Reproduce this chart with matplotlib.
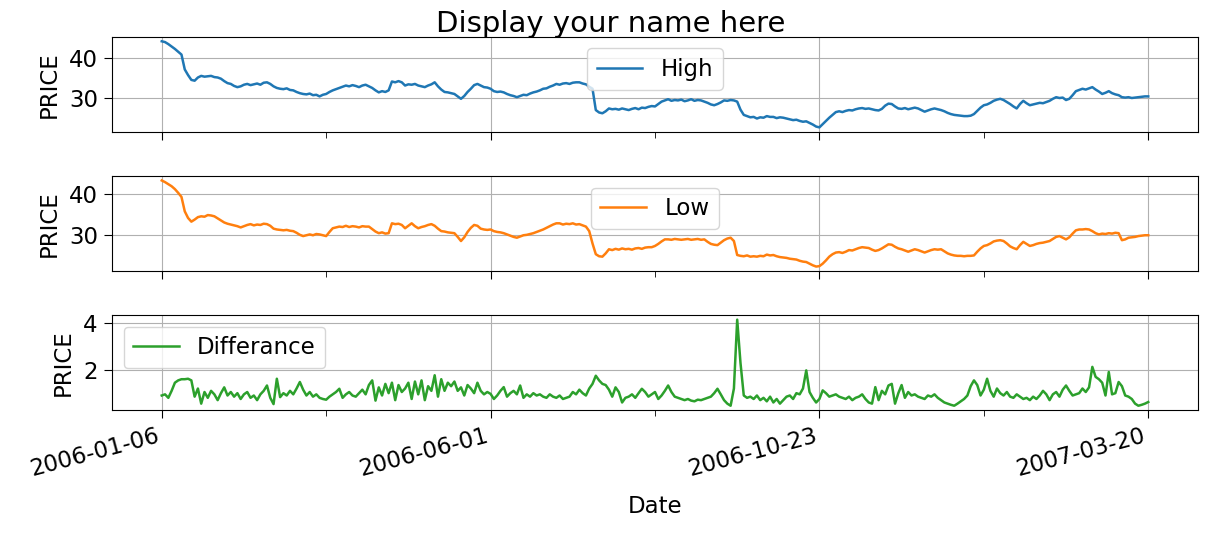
import numpy as np
import matplotlib.pyplot as plt

# tick labels (trading days index -> date)
tick_pos = [0, 100, 200, 300]
tick_labels = ['2006-01-06', '2006-06-01', '2006-10-23', '2007-03-20']
minor_pos = [50, 150, 250]
price_ticks = [30, 40]
diff_ticks = [2, 4]

high = [
    44.2, 44.0, 43.5, 42.9, 42.3, 41.6, 40.9, 37.2, 35.8, 34.6, 34.4, 35.2, 35.6, 35.4, 35.5, 35.6, 35.3, 35.2, 34.9, 34.3,
    33.8, 33.6, 33.1, 32.8, 33.0, 33.4, 33.6, 33.3, 33.5, 33.7, 33.4, 33.9, 34.0, 33.6, 33.0, 32.6, 32.4, 32.3, 32.5, 32.1,
    32.0, 31.6, 31.3, 31.1, 31.0, 31.2, 30.8, 30.9, 30.5, 30.9, 31.1, 31.6, 32.0, 32.3, 32.6, 32.9, 33.2, 33.0, 33.3, 33.1,
    32.8, 33.2, 33.4, 33.0, 32.6, 32.0, 31.5, 31.8, 31.6, 32.0, 34.2, 34.0, 34.3, 34.0, 33.2, 33.5, 33.4, 33.6, 33.2, 33.0,
    32.8, 33.2, 33.5, 34.0, 33.0, 32.2, 31.6, 31.5, 31.3, 31.1, 30.5, 29.9, 30.6, 31.6, 32.4, 33.3, 33.6, 33.2, 32.8, 32.7,
    32.4, 31.8, 31.6, 31.7, 31.5, 31.1, 30.8, 30.6, 30.3, 30.6, 30.9, 30.8, 31.2, 31.5, 31.7, 32.0, 32.4, 32.5, 32.9, 33.2,
    33.6, 33.4, 33.7, 33.8, 33.6, 33.9, 34.0, 34.0, 33.7, 33.5, 32.9, 32.4, 27.1, 26.5, 26.3, 26.8, 27.5, 27.3, 27.4, 27.2,
    27.5, 27.3, 27.1, 27.4, 27.6, 27.3, 27.7, 27.6, 27.9, 28.1, 28.0, 28.6, 29.2, 29.5, 29.8, 29.4, 29.6, 29.5, 29.7, 29.3,
    29.5, 29.8, 29.4, 29.6, 29.5, 29.2, 28.9, 28.5, 28.3, 28.6, 29.0, 29.5, 29.4, 29.6, 29.5, 29.2, 27.2, 25.9, 25.6, 25.3,
    25.4, 25.0, 25.3, 25.2, 25.6, 25.4, 25.4, 25.1, 25.3, 25.2, 25.0, 24.8, 24.6, 24.7, 24.4, 24.2, 24.3, 23.9, 23.5, 23.0,
    22.8, 23.6, 24.4, 25.2, 25.9, 26.6, 26.8, 26.6, 26.9, 27.1, 27.0, 27.3, 27.5, 27.6, 27.4, 27.5, 27.3, 27.1, 27.0, 27.4,
    28.2, 28.7, 28.6, 28.0, 27.5, 27.4, 27.6, 27.3, 27.5, 27.7, 27.5, 27.1, 26.7, 27.0, 27.3, 27.5, 27.3, 27.1, 26.8, 26.4,
    26.1, 25.9, 25.8, 25.7, 25.6, 25.6, 25.7, 26.1, 26.9, 27.7, 28.3, 28.5, 28.9, 29.4, 29.7, 29.9, 29.6, 29.1, 28.6, 28.0,
    27.5, 28.6, 29.4, 28.8, 28.3, 28.5, 28.7, 28.9, 28.8, 29.1, 29.4, 29.9, 30.3, 30.1, 30.2, 29.6, 29.9, 30.8, 31.8, 32.1,
    32.4, 32.2, 32.5, 32.8, 32.2, 31.7, 31.1, 31.4, 31.8, 31.3, 31.0, 30.8, 30.3, 30.2, 30.3, 30.1, 30.2, 30.3, 30.4, 30.5,
    30.5,
]

low = [
    43.3, 42.9, 42.4, 41.9, 41.2, 40.3, 39.3, 35.8, 34.2, 33.3, 33.8, 34.4, 34.6, 34.5, 34.9, 34.8, 34.6, 34.1, 33.6, 33.1,
    32.8, 32.6, 32.4, 32.2, 31.9, 32.2, 32.5, 32.7, 32.4, 32.6, 32.5, 32.8, 32.7, 32.3, 31.6, 31.4, 31.3, 31.2, 31.3, 31.1,
    31.0, 30.6, 30.1, 29.8, 30.0, 30.2, 30.0, 30.3, 30.2, 30.0, 29.8, 30.8, 31.7, 31.9, 32.1, 32.0, 32.3, 32.0, 32.2, 32.1,
    31.9, 32.2, 32.1, 32.1, 31.5, 30.9, 30.5, 30.7, 30.4, 30.5, 32.9, 32.7, 32.8, 32.5, 31.7, 32.3, 32.9, 32.2, 31.7, 32.0,
    32.2, 32.5, 32.7, 32.3, 31.6, 31.0, 30.9, 30.7, 30.6, 30.5, 29.6, 28.6, 29.5, 30.8, 31.8, 32.5, 32.3, 31.6, 31.4, 31.3,
    31.4, 31.0, 30.8, 30.7, 30.5, 30.2, 29.9, 29.6, 29.4, 29.7, 30.0, 30.1, 30.3, 30.5, 30.8, 31.1, 31.4, 31.8, 32.2, 32.6,
    32.9, 32.9, 32.6, 32.8, 32.7, 32.9, 32.6, 32.7, 32.4, 32.1, 31.0, 28.0, 25.4, 24.9, 24.8, 25.6, 26.6, 26.4, 26.7, 26.5,
    26.8, 26.6, 26.7, 26.5, 26.8, 26.9, 26.7, 27.0, 27.1, 27.1, 27.4, 27.9, 28.5, 29.0, 29.0, 28.9, 29.1, 29.0, 28.9, 29.0,
    29.1, 28.9, 29.0, 29.1, 28.9, 29.0, 28.4, 27.9, 27.7, 27.6, 28.2, 28.8, 29.2, 29.4, 28.6, 25.2, 25.0, 24.9, 25.1, 24.8,
    24.9, 24.8, 25.0, 24.9, 25.3, 25.1, 25.2, 24.9, 24.7, 24.6, 24.5, 24.3, 24.2, 24.1, 23.8, 23.6, 23.5, 23.1, 22.7, 22.4,
    22.5, 23.1, 23.9, 24.8, 25.4, 25.8, 25.9, 25.7, 26.0, 26.4, 26.3, 26.6, 26.9, 27.1, 27.0, 26.9, 26.5, 26.2, 26.4, 26.8,
    27.3, 27.8, 27.7, 27.2, 26.8, 26.6, 26.3, 26.0, 26.3, 26.6, 26.4, 26.1, 25.8, 26.1, 26.4, 26.6, 26.5, 26.6, 26.1, 25.6,
    25.3, 25.1, 25.0, 25.0, 24.9, 25.0, 25.0, 25.1, 26.0, 26.8, 27.4, 27.6, 28.0, 28.5, 28.7, 28.8, 28.6, 28.0, 27.3, 26.9,
    26.6, 27.6, 28.4, 27.9, 27.4, 27.6, 27.9, 28.1, 28.2, 28.4, 28.6, 29.1, 29.6, 29.8, 29.4, 29.0, 29.5, 30.4, 31.2, 31.4,
    31.4, 31.5, 31.4, 31.0, 30.5, 30.2, 30.4, 30.3, 30.5, 30.4, 30.6, 30.5, 28.8, 29.0, 29.4, 29.5, 29.6, 29.8, 29.9, 30.0,
    30.0,
]

differance = [
    0.90, 0.95, 0.80, 1.10, 1.45, 1.55, 1.60, 1.60, 1.62, 1.55, 0.85, 1.20, 0.55, 1.05, 0.80, 1.10, 0.95, 0.70, 1.00, 1.25,
    0.90, 1.05, 0.85, 1.00, 0.75, 0.95, 1.05, 0.80, 0.90, 0.70, 0.95, 1.10, 1.33, 0.80, 0.53, 1.62, 0.83, 1.00, 0.90, 1.10,
    0.95, 1.20, 1.48, 1.15, 0.90, 1.05, 0.85, 0.95, 0.80, 0.75, 0.72, 0.85, 0.95, 1.05, 1.19, 0.80, 0.95, 1.05, 0.90, 0.85,
    1.00, 1.15, 0.95, 1.35, 1.55, 0.68, 1.25, 0.90, 1.40, 1.00, 1.45, 0.70, 1.35, 1.05, 1.20, 1.45, 0.75, 1.50, 0.95, 1.55,
    0.70, 1.30, 1.10, 1.77, 0.85, 1.60, 1.10, 1.45, 1.30, 1.50, 1.10, 1.25, 0.90, 1.35, 1.20, 1.00, 1.45, 1.10, 0.95, 1.05,
    0.97, 0.75, 0.90, 1.10, 1.26, 0.85, 1.00, 1.10, 0.95, 1.33, 0.80, 0.95, 0.85, 1.00, 0.90, 0.95, 0.85, 0.80, 0.95, 0.85,
    0.80, 0.90, 0.75, 0.80, 0.85, 1.05, 0.95, 1.15, 1.00, 0.90, 1.20, 1.40, 1.75, 1.55, 1.40, 1.35, 1.15, 0.85, 1.25, 1.05,
    0.60, 0.80, 0.85, 0.95, 0.80, 1.00, 1.19, 1.05, 0.85, 0.95, 1.05, 0.75, 0.90, 1.10, 1.33, 1.05, 0.85, 0.80, 0.75, 0.70,
    0.75, 0.68, 0.65, 0.72, 0.70, 0.75, 0.80, 0.85, 1.00, 1.19, 0.95, 0.70, 0.55, 0.46, 1.20, 4.16, 2.30, 0.90, 0.80, 0.85,
    0.75, 0.90, 0.70, 0.80, 0.65, 0.85, 0.60, 0.75, 0.55, 0.70, 0.85, 0.90, 0.75, 1.00, 0.95, 1.20, 1.98, 1.05, 0.80, 0.60,
    0.75, 1.12, 1.00, 0.85, 0.90, 0.95, 0.85, 0.80, 0.75, 0.85, 0.70, 0.80, 0.85, 0.95, 0.75, 0.60, 0.55, 1.26, 0.70, 1.10,
    0.95, 1.33, 1.40, 0.55, 1.00, 1.35, 0.80, 1.05, 0.90, 0.95, 0.85, 0.80, 0.75, 0.90, 0.85, 0.95, 0.80, 0.70, 0.60, 0.55,
    0.50, 0.46, 0.55, 0.65, 0.75, 0.90, 1.30, 1.55, 1.35, 0.90, 1.15, 1.62, 1.10, 0.85, 1.20, 1.00, 0.90, 1.05, 0.85, 0.80,
    0.95, 0.85, 0.75, 0.80, 0.70, 0.85, 0.75, 0.90, 1.10, 0.95, 0.70, 0.95, 1.05, 0.85, 1.15, 1.33, 1.10, 0.90, 0.95, 1.00,
    1.20, 1.05, 1.25, 2.13, 1.70, 1.60, 1.45, 0.90, 1.91, 0.95, 1.00, 1.48, 1.30, 0.90, 0.85, 0.75, 0.55, 0.46, 0.50, 0.55,
    0.62,
]

plt.rcParams['font.size'] = 16.5
plt.rcParams['xtick.major.size'] = 5.5
plt.rcParams['ytick.major.size'] = 5.5
plt.rcParams['xtick.minor.size'] = 4
plt.rcParams['xtick.major.pad'] = 5
plt.rcParams['ytick.major.pad'] = 5

fig, axes = plt.subplots(3, 1, sharex=True, figsize=(12.22, 5.36), dpi=100)

series = [
    (high, 'High', '#1f77b4', 'upper center', price_ticks),
    (low, 'Low', '#ff7f0e', 'upper center', price_ticks),
    (differance, 'Differance', '#2ca02c', 'upper left', diff_ticks),
]
for ax, (vals, name, col, loc, yt) in zip(axes, series):
    ax.plot(np.arange(len(vals)), vals, color=col, lw=1.8, label=name)
    ax.set_ylabel('PRICE', labelpad=6)
    ax.set_yticks(yt)
    ax.grid(True)
    ax.legend(loc=loc)

axes[-1].set_xticks(tick_pos)
axes[-1].set_xticklabels(tick_labels, rotation=15, ha='right')
axes[-1].set_xticks(minor_pos, minor=True)
axes[-1].set_xlabel('Date', labelpad=10)

fig.suptitle('Display your name here', y=0.982, fontsize=21)
fig.subplots_adjust(left=0.092, right=0.980, top=0.931, bottom=0.235, hspace=0.47)
fig.savefig('out.png')
